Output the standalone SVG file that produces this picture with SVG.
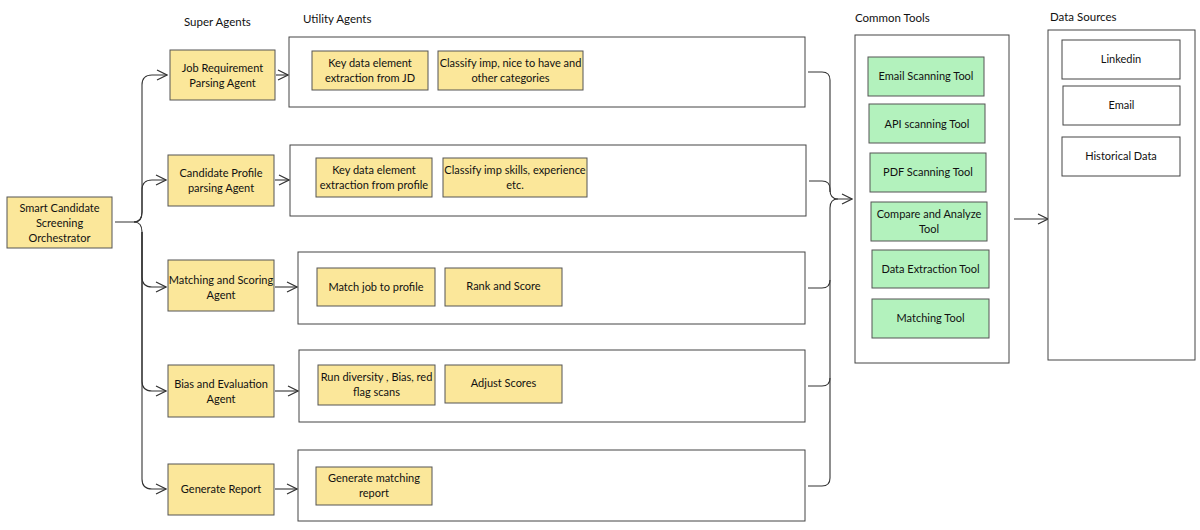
<svg xmlns="http://www.w3.org/2000/svg" width="1200" height="530" viewBox="0 0 1200 530">
<defs>
<marker id="ar" viewBox="0 0 12 12" refX="11" refY="6" markerWidth="12" markerHeight="12" markerUnits="userSpaceOnUse" orient="auto"><path d="M1,1 L11,6 L1,11" fill="none" stroke="#333" stroke-width="1.2"/></marker>
<style>
text{font-family:Lato,"Noto Sans",sans-serif;font-size:11px;fill:#111;text-anchor:middle}
.h{text-anchor:start;font-size:11.5px}
.y{fill:#fbe79a;stroke:#555;stroke-width:1}
.g{fill:#b3f2bd;stroke:#555;stroke-width:1}
.w{fill:#fff;stroke:#444;stroke-width:1}
.c{fill:none;stroke:#333;stroke-width:1.1}
</style>
</defs>
<rect width="1200" height="530" fill="#fff"/>
<text class="h" x="184" y="26">Super Agents</text>
<text class="h" x="303" y="23">Utility Agents</text>
<text class="h" x="855" y="22">Common Tools</text>
<text class="h" x="1050" y="21">Data Sources</text>

<g id="connectors">
<path class="c" d="M115,222 H134 Q142,222 142,212 V85 Q142,75 152,75 H167" marker-end="url(#ar)"/>
<path class="c" d="M134,222 Q142,222 142,212 V190 Q142,180 152,180 H166" marker-end="url(#ar)"/>
<path class="c" d="M134,222 Q142,222 142,232 V277 Q142,287 152,287 H166" marker-end="url(#ar)"/>
<path class="c" d="M142,232 V381 Q142,391 152,391 H166" marker-end="url(#ar)"/>
<path class="c" d="M142,232 V479 Q142,489 152,489 H166" marker-end="url(#ar)"/>
<path class="c" d="M276,75 H288" marker-end="url(#ar)"/>
<path class="c" d="M275,180 H289" marker-end="url(#ar)"/>
<path class="c" d="M275,287 H297" marker-end="url(#ar)"/>
<path class="c" d="M275,391 H298" marker-end="url(#ar)"/>
<path class="c" d="M275,489 H297" marker-end="url(#ar)"/>
<path class="c" d="M808,72 H822 Q830,72 830,80 V190 Q830,199 838,199 H852" marker-end="url(#ar)"/>
<path class="c" d="M809,181 H822 Q830,181 830,189 V192"/>
<path class="c" d="M838,199 Q830,199 830,208 V478 Q830,486 822,486 H808"/>
<path class="c" d="M808,288 H822 Q830,288 830,280"/>
<path class="c" d="M808,386 H822 Q830,386 830,378"/>
<path class="c" d="M1014,219 H1048" marker-end="url(#ar)"/>
</g>

<g id="orchestrator"><rect class="y" x="7" y="197" width="105" height="51"/><text x="59.5" y="212">Smart Candidate</text><text x="59.5" y="227">Screening</text><text x="59.5" y="242">Orchestrator</text></g>

<g id="agent-job"><rect class="y" x="170" y="50" width="105" height="50"/><text x="222.5" y="72">Job Requirement</text><text x="222.5" y="87">Parsing Agent</text></g>
<g id="agent-candidate"><rect class="y" x="168" y="155" width="106" height="51"/><text x="221" y="177">Candidate Profile</text><text x="221" y="192">parsing Agent</text></g>
<g id="agent-matching"><rect class="y" x="168" y="260" width="106" height="51"/><text x="221" y="284">Matching and Scoring</text><text x="221" y="299">Agent</text></g>
<g id="agent-bias"><rect class="y" x="168" y="365" width="106" height="52"/><text x="221" y="388">Bias and Evaluation</text><text x="221" y="403">Agent</text></g>
<g id="agent-report"><rect class="y" x="168" y="464" width="106" height="51"/><text x="221" y="493">Generate Report</text></g>

<g id="utility-1"><rect class="w" x="289" y="37" width="516" height="70"/>
<rect class="y" x="312" y="51" width="116" height="39"/><text x="370" y="67">Key data element</text><text x="370" y="82">extraction from JD</text>
<rect class="y" x="438" y="51" width="145" height="39"/><text x="510.5" y="67">Classify imp, nice to have and</text><text x="510.5" y="82">other categories</text></g>
<g id="utility-2"><rect class="w" x="290" y="145" width="516" height="71"/>
<rect class="y" x="316" y="158" width="116" height="39"/><text x="374" y="174">Key data element</text><text x="374" y="189">extraction from profile</text>
<rect class="y" x="443" y="158" width="144" height="39"/><text x="515" y="174">Classify imp skills, experience</text><text x="515" y="189">etc.</text></g>
<g id="utility-3"><rect class="w" x="298" y="252" width="507" height="72"/>
<rect class="y" x="317" y="268" width="118" height="38"/><text x="376" y="291">Match job to profile</text>
<rect class="y" x="445" y="268" width="117" height="38"/><text x="503.5" y="290">Rank and Score</text></g>
<g id="utility-4"><rect class="w" x="299" y="350" width="506" height="72"/>
<rect class="y" x="318" y="365" width="117" height="40"/><text x="376.5" y="381">Run diversity , Bias, red</text><text x="376.5" y="396">flag scans</text>
<rect class="y" x="445" y="365" width="117" height="38"/><text x="503.5" y="387">Adjust Scores</text></g>
<g id="utility-5"><rect class="w" x="298" y="450" width="507" height="71"/>
<rect class="y" x="316" y="467" width="116" height="38"/><text x="374" y="482">Generate matching</text><text x="374" y="497">report</text></g>

<g id="common-tools"><rect class="w" x="855" y="35" width="154" height="328"/>
<rect class="g" x="868" y="57" width="116" height="39"/><text x="926" y="80">Email Scanning Tool</text>
<rect class="g" x="869" y="104" width="116" height="39"/><text x="927" y="128">API scanning Tool</text>
<rect class="g" x="870" y="153" width="116" height="39"/><text x="928" y="176">PDF Scanning Tool</text>
<rect class="g" x="871" y="202" width="116" height="39"/><text x="929" y="218">Compare and Analyze</text><text x="929" y="233">Tool</text>
<rect class="g" x="872" y="250" width="117" height="38"/><text x="930.5" y="273">Data Extraction Tool</text>
<rect class="g" x="872" y="299" width="117" height="39"/><text x="930.5" y="322">Matching Tool</text></g>

<g id="data-sources"><rect class="w" x="1048" y="30" width="147" height="330"/>
<rect class="w" x="1062" y="40" width="118" height="39"/><text x="1121" y="63">Linkedin</text>
<rect class="w" x="1063" y="86" width="117" height="39"/><text x="1121.5" y="109">Email</text>
<rect class="w" x="1062" y="137" width="118" height="39"/><text x="1121" y="160">Historical Data</text></g>
</svg>
